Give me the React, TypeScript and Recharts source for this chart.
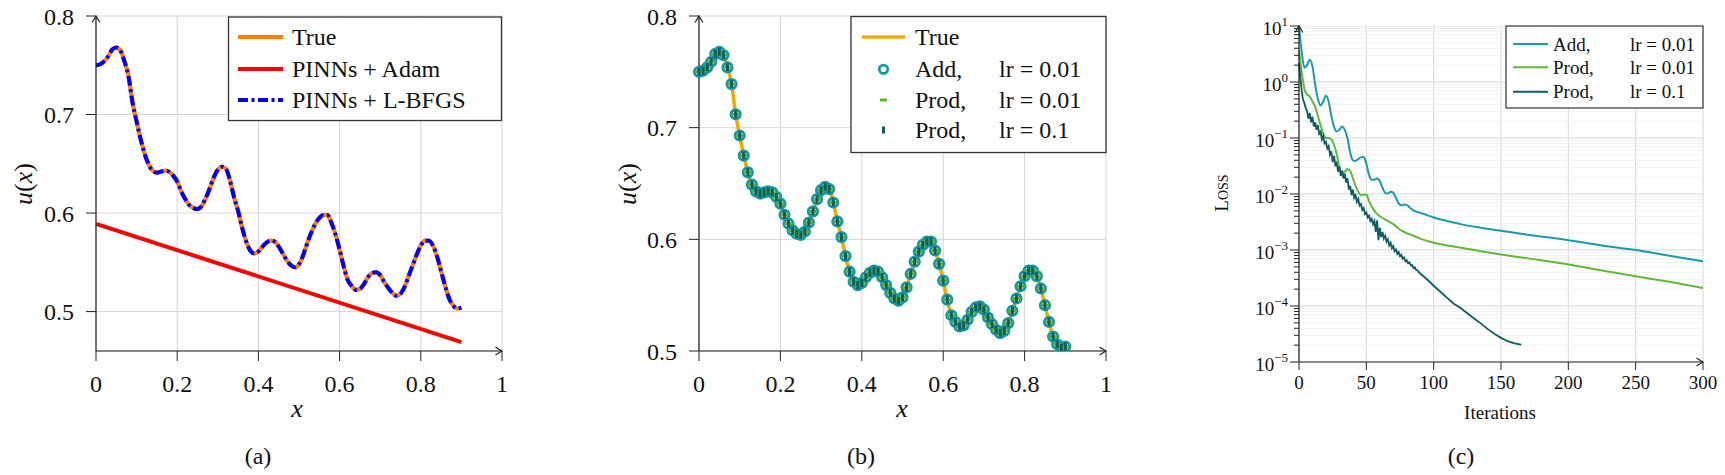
import React from 'react';
import { LineChart, Line, XAxis, YAxis, CartesianGrid, ReferenceLine } from 'recharts';

// ---- solution u(x) sampled on [0, 0.9] ----
const xSamples = [
  0, 0.01, 0.02, 0.03, 0.04, 0.05, 0.06, 0.07, 0.08, 0.09,
  0.1, 0.11, 0.12, 0.13, 0.14, 0.15, 0.16, 0.17, 0.18, 0.19,
  0.2, 0.21, 0.22, 0.23, 0.24, 0.25, 0.26, 0.27, 0.28, 0.29,
  0.3, 0.31, 0.32, 0.33, 0.34, 0.35, 0.36, 0.37, 0.38, 0.39,
  0.4, 0.41, 0.42, 0.43, 0.44, 0.45, 0.46, 0.47, 0.48, 0.49,
  0.5, 0.51, 0.52, 0.53, 0.54, 0.55, 0.56, 0.57, 0.58, 0.59,
  0.6, 0.61, 0.62, 0.63, 0.64, 0.65, 0.66, 0.67, 0.68, 0.69,
  0.7, 0.71, 0.72, 0.73, 0.74, 0.75, 0.76, 0.77, 0.78, 0.79,
  0.8, 0.81, 0.82, 0.83, 0.84, 0.85, 0.86, 0.87, 0.88, 0.89,
  0.9,
];
const uTrue = [
  0.750, 0.751, 0.754, 0.759, 0.766, 0.768, 0.765, 0.754, 0.739, 0.712,
  0.693, 0.675, 0.660, 0.649, 0.643, 0.641, 0.642, 0.643, 0.642, 0.638,
  0.632, 0.622, 0.614, 0.608, 0.605, 0.604, 0.607, 0.615, 0.625, 0.636,
  0.644, 0.647, 0.645, 0.633, 0.616, 0.602, 0.585, 0.571, 0.562, 0.559,
  0.561, 0.566, 0.570, 0.572, 0.571, 0.566, 0.559, 0.552, 0.547, 0.545,
  0.548, 0.557, 0.569, 0.580, 0.589, 0.595, 0.598, 0.598, 0.590, 0.578,
  0.563, 0.546, 0.532, 0.526, 0.522, 0.523, 0.528, 0.535, 0.539, 0.540,
  0.537, 0.530, 0.524, 0.519, 0.516, 0.518, 0.525, 0.536, 0.547, 0.558,
  0.567, 0.572, 0.572, 0.567, 0.556, 0.541, 0.526, 0.513, 0.506, 0.503,
  0.504,
];
// PINNs + Adam end points
const adamX = [0, 0.9];
const adamU = [0.589, 0.469];

// ---- training loss ----
const addIter = [
  0, 2, 4, 6, 8, 10, 12, 14, 16, 18, 20, 22, 24, 26, 28, 30, 32, 34, 36, 38, 40,
  42, 44, 46, 48, 50, 52, 54, 56, 58, 60, 62, 64, 66, 68, 70, 72, 74, 76, 78, 80, 82,
  85, 90, 95, 100, 110, 120, 135, 150, 175, 200, 225, 250, 275, 300,
];
const addLoss = [
  10, 3.5, 1.8, 2.0, 2.5, 1.9, 0.9, 0.5, 0.38, 0.45, 0.57, 0.45, 0.25, 0.16, 0.13,
  0.14, 0.16, 0.14, 0.1, 0.055, 0.04, 0.039, 0.042, 0.045, 0.046, 0.035, 0.022, 0.018,
  0.018, 0.019, 0.017, 0.013, 0.0105, 0.0102, 0.011, 0.0105, 0.0085, 0.0068, 0.0063,
  0.0065, 0.0064, 0.0058,
  0.0051, 0.0046, 0.0042, 0.0038, 0.0033, 0.0029, 0.0025, 0.0022, 0.0018, 0.0015,
  0.0012, 0.001, 0.00079, 0.00063,
];
const prodIter = [
  0, 2, 4, 6, 8, 10, 12, 14, 16, 18, 20, 22, 24, 26, 28, 30, 32, 34, 36, 38, 40,
  42, 44, 46, 48, 50, 52, 54, 56, 58, 60,
  65, 70, 75, 80, 85, 90, 100, 110, 120, 135, 150, 175, 200, 225, 250, 275, 300,
];
const prodLoss = [
  3.8, 1.5, 0.75, 0.6, 0.55, 0.45, 0.36, 0.25, 0.17, 0.12, 0.1, 0.1, 0.095, 0.075,
  0.052, 0.03, 0.024, 0.025, 0.028, 0.026, 0.019, 0.014, 0.011, 0.0095, 0.0098,
  0.0098, 0.0075, 0.006, 0.005, 0.0044, 0.004,
  0.0034, 0.0029, 0.0023, 0.002, 0.0018, 0.0016, 0.00135, 0.0012, 0.0011, 0.00095,
  0.00083, 0.00068, 0.00055, 0.00043, 0.00034, 0.00027, 0.00021,
];
const prodFastIter = [
  0, 1, 2, 3, 4, 5, 6, 7, 8, 9, 10, 11, 12, 13, 14, 15, 16, 17, 18, 19,
  20, 21, 22, 23, 24, 25, 26, 27, 28, 29, 30, 31, 32, 33, 34, 35, 36, 37, 38, 39,
  40, 41, 42, 43, 44, 45, 46, 47, 48, 49, 50, 51, 52, 53, 54, 55, 56, 57, 58, 59,
  60, 61, 62, 63, 64, 65, 66, 67, 68, 69, 70, 71, 72, 73, 74, 75, 76, 77, 78, 79,
  80, 81, 82, 83, 84, 85, 86, 87, 88, 89, 90,
  95, 100, 105, 110, 115, 120, 125, 130, 135, 140, 145, 150, 155, 160, 165,
];
const prodFastLoss = [
  2.2, 1.2, 0.7, 0.48, 0.42, 0.34, 0.30, 0.22, 0.28, 0.19,
  0.24, 0.16, 0.19, 0.14, 0.17, 0.12, 0.13, 0.095, 0.11, 0.08,
  0.085, 0.065, 0.072, 0.05, 0.058, 0.037, 0.048, 0.033, 0.036, 0.025,
  0.031, 0.021, 0.026, 0.019, 0.023, 0.016, 0.019, 0.012, 0.014, 0.0095,
  0.012, 0.0085, 0.0095, 0.0072, 0.0082, 0.0062, 0.0066, 0.0052, 0.0056, 0.0044,
  0.0047, 0.0038, 0.0041, 0.0033, 0.0036, 0.0029, 0.0033, 0.0021, 0.0034, 0.0015,
  0.0025, 0.0017, 0.0021, 0.0016, 0.0018, 0.0014, 0.00155, 0.0012, 0.00135, 0.00108,
  0.00118, 0.00095, 0.00102, 0.00085, 0.00092, 0.00078, 0.00082, 0.0007, 0.00074, 0.00063,
  0.00066, 0.00058, 0.0006, 0.00053, 0.00054, 0.00048, 0.00049, 0.00044, 0.00043, 0.0004,
  0.00038,
  0.0003, 0.00023, 0.00018, 0.00014, 0.00011, 9.2e-5, 7.4e-5, 6.0e-5, 4.9e-5, 3.9e-5,
  3.2e-5, 2.7e-5, 2.35e-5, 2.15e-5, 2.05e-5,
];

// ---- ticks ----
const unitTicks = [0, 0.2, 0.4, 0.6, 0.8, 1];
const uTicks = [0.5, 0.6, 0.7, 0.8];
const iterTicks = [0, 50, 100, 150, 200, 250, 300];
const lossDecades = [1e-5, 1e-4, 1e-3, 1e-2, 1e-1, 1, 10];
const minorSteps = [2, 3, 4, 5, 6, 7, 8, 9];
const lossTicks = lossDecades.flatMap((d, i) =>
  i === lossDecades.length - 1 ? [d] : [d, ...minorSteps.map((m) => m * d)]
);

const solutionRows = xSamples.map((x, i) => {
  const j = adamX.indexOf(x);
  return { x, u: uTrue[i], adam: j >= 0 ? adamU[j] : undefined };
});

const lossRows = (() => {
  const byIter = new Map<number, any>();
  const put = (iters: number[], losses: number[], key: string) =>
    iters.forEach((it, i) => {
      const row = byIter.get(it) ?? { it };
      row[key] = losses[i];
      byIter.set(it, row);
    });
  put(addIter, addLoss, 'add');
  put(prodIter, prodLoss, 'prod');
  put(prodFastIter, prodFastLoss, 'prodFast');
  return [...byIter.values()].sort((a, b) => a.it - b.it);
})();

// ---- styling ----
const SERIF = '"Liberation Serif", "Times New Roman", serif';
const INK = '#111';
const AXIS = '#222';
const GRID = '#d6d6d6';
const GRID_MINOR = '#f0f0f0';

const ORANGE = '#ff8000';
const AMBER = '#f5a700';
const TEAL = '#17979f';
const GREEN = '#5bb331';
const DARK_TEAL = '#0b6064';
const ADD_C = '#1a9ba8';
const PROD_C = '#62b83a';
const FAST_C = '#0d5e62';

const bigTick = { fontSize: 24, fill: INK, fontFamily: SERIF, style: { fontFamily: SERIF } };
const smallTick = { fontSize: 19, fill: INK, fontFamily: SERIF, style: { fontFamily: SERIF } };
const axisLineX = { stroke: AXIS, strokeWidth: 1.2, markerEnd: 'url(#axisArrow)' };
const axisLineY = { stroke: AXIS, strokeWidth: 1.2, markerStart: 'url(#axisArrowRev)' };
const tickLine = { stroke: AXIS, strokeWidth: 1 };
const chartStyle = { fontFamily: SERIF };

const circleDot = (p: any) => (
  <circle key={`c${p.index}`} cx={p.cx} cy={p.cy} r={4.6} fill="none" stroke={TEAL} strokeWidth={3} />
);
const dashDot = (p: any) => (
  <line key={`d${p.index}`} x1={p.cx - 4} x2={p.cx + 4} y1={p.cy} y2={p.cy} stroke={GREEN} strokeWidth={3} />
);
const barDot = (p: any) => (
  <line key={`b${p.index}`} x1={p.cx} x2={p.cx} y1={p.cy - 4} y2={p.cy + 4} stroke={DARK_TEAL} strokeWidth={3} />
);

const LossTick = ({ x, y, payload }: any) => {
  const v = payload.value;
  const major = lossDecades.includes(v);
  const exp = Math.round(Math.log10(v));
  return (
    <g>
      <line x1={x - (major ? 9 : 5)} x2={x} y1={y} y2={y} stroke={AXIS} strokeWidth={1} />
      {major && (
        <text x={x - 11} y={y + 9} textAnchor="end" fontSize={19} fill={INK} style={{ fontFamily: SERIF }}>
          10
          <tspan dy={-9} fontSize={13}>
            {exp < 0 ? `\u2212${-exp}` : `${exp}`}
          </tspan>
        </text>
      )}
    </g>
  );
};

function SolutionChart() {
  return (
    <LineChart width={560} height={400} data={solutionRows} style={chartStyle} margin={{ top: 16, right: 58, bottom: 9, left: 0 }}>
      <CartesianGrid stroke={GRID} strokeWidth={1} />
      <XAxis
        dataKey="x"
        type="number"
        domain={[0, 1]}
        ticks={unitTicks}
        interval={0}
        height={40}
        tick={bigTick}
        tickSize={10}
        tickMargin={14}
        tickLine={tickLine}
        axisLine={axisLineX}
      />
      <YAxis
        type="number"
        domain={[0.46, 0.8]}
        allowDataOverflow
        ticks={uTicks}
        interval={0}
        width={96}
        tick={bigTick}
        tickSize={10}
        tickMargin={12}
        tickLine={tickLine}
        axisLine={axisLineY}
      />
      <Line dataKey="u" type="monotone" stroke={ORANGE} strokeWidth={4.2} dot={false} activeDot={false} isAnimationActive={false} />
      <Line dataKey="adam" type="linear" connectNulls stroke="#ff0000" strokeWidth={4} dot={false} activeDot={false} isAnimationActive={false} />
      <Line dataKey="u" type="monotone" stroke="#0000ff" strokeWidth={4} strokeDasharray="10 3.5 3 3.5" dot={false} activeDot={false} isAnimationActive={false} />
    </LineChart>
  );
}

function PredictionChart() {
  return (
    <LineChart width={560} height={400} data={solutionRows} style={chartStyle} margin={{ top: 16, right: 54, bottom: 9, left: 0 }}>
      <CartesianGrid stroke={GRID} strokeWidth={1} />
      <XAxis
        dataKey="x"
        type="number"
        domain={[0, 1]}
        ticks={unitTicks}
        interval={0}
        height={40}
        tick={bigTick}
        tickSize={10}
        tickMargin={14}
        tickLine={tickLine}
        axisLine={axisLineX}
      />
      <YAxis
        type="number"
        domain={[0.5, 0.8]}
        allowDataOverflow
        ticks={uTicks}
        interval={0}
        width={99}
        tick={bigTick}
        tickSize={10}
        tickMargin={12}
        tickLine={tickLine}
        axisLine={axisLineY}
      />
      <Line dataKey="u" type="monotone" stroke={AMBER} strokeWidth={3.5} dot={false} activeDot={false} isAnimationActive={false} />
      <Line dataKey="u" stroke="none" dot={circleDot} activeDot={false} isAnimationActive={false} />
      <Line dataKey="u" stroke="none" dot={dashDot} activeDot={false} isAnimationActive={false} />
      <Line dataKey="u" stroke="none" dot={barDot} activeDot={false} isAnimationActive={false} />
    </LineChart>
  );
}

function LossChart() {
  return (
    <LineChart width={525} height={420} data={lossRows} style={chartStyle} margin={{ top: 26, right: 22, bottom: 18, left: 0 }}>
      <CartesianGrid stroke={GRID} strokeWidth={1} horizontal={false} />
      {lossTicks.map((v) => (
        <ReferenceLine
          key={v}
          y={v}
          stroke={lossDecades.includes(v) ? GRID : GRID_MINOR}
          strokeWidth={1}
          ifOverflow="hidden"
        />
      ))}
      <XAxis
        dataKey="it"
        type="number"
        domain={[0, 300]}
        ticks={iterTicks}
        interval={0}
        height={40}
        tick={smallTick}
        tickSize={8}
        tickMargin={6}
        tickLine={tickLine}
        axisLine={axisLineX}
      />
      <YAxis
        type="number"
        scale="log"
        domain={[1e-5, 10]}
        allowDataOverflow
        ticks={lossTicks}
        interval={0}
        width={99}
        tick={<LossTick />}
        tickSize={0}
        tickMargin={0}
        tickLine={false}
        axisLine={axisLineY}
      />
      <Line dataKey="add" type="monotone" connectNulls stroke={ADD_C} strokeWidth={2} dot={false} activeDot={false} isAnimationActive={false} />
      <Line dataKey="prod" type="monotone" connectNulls stroke={PROD_C} strokeWidth={2} dot={false} activeDot={false} isAnimationActive={false} />
      <Line dataKey="prodFast" type="linear" connectNulls stroke={FAST_C} strokeWidth={1.8} dot={false} activeDot={false} isAnimationActive={false} />
    </LineChart>
  );
}

const Abs = ({ left, top, children }: any) => (
  <div style={{ position: 'absolute', left, top }}>{children}</div>
);

export default function App() {
  return (
    <div
      style={{
        position: 'absolute',
        left: 0,
        top: 0,
        width: 1725,
        height: 475,
        background: '#fff',
        overflow: 'hidden',
        fontFamily: SERIF,
      }}
    >
      <svg width={0} height={0} style={{ position: 'absolute' }}>
        <defs>
          <marker id="axisArrow" viewBox="-8 -5 10 10" refX={0} refY={0} markerWidth={10} markerHeight={10} markerUnits="userSpaceOnUse" orient="auto">
            <path d="M-6.5,-4 Q-1.5,-0.8 0,0 Q-1.5,0.8 -6.5,4" fill="none" stroke={AXIS} strokeWidth={1.2} />
          </marker>
          <marker id="axisArrowRev" viewBox="-8 -5 10 10" refX={0} refY={0} markerWidth={10} markerHeight={10} markerUnits="userSpaceOnUse" orient="auto-start-reverse">
            <path d="M-6.5,-4 Q-1.5,-0.8 0,0 Q-1.5,0.8 -6.5,4" fill="none" stroke={AXIS} strokeWidth={1.2} />
          </marker>
        </defs>
      </svg>

      <Abs left={0} top={0}>
        <SolutionChart />
      </Abs>
      <Abs left={600} top={0}>
        <PredictionChart />
      </Abs>
      <Abs left={1200} top={0}>
        <LossChart />
      </Abs>

      <svg width={1725} height={475} style={{ position: 'absolute', left: 0, top: 0, pointerEvents: 'none', fontFamily: SERIF }} fill={INK}>
        {/* legend (a) */}
        <rect x={228.5} y={17} width={273} height={103.5} fill="#fff" stroke="#333" strokeWidth={1.3} />
        <line x1={238} x2={283} y1={37} y2={37} stroke={ORANGE} strokeWidth={4.2} />
        <line x1={238} x2={283} y1={69} y2={69} stroke="#ff0000" strokeWidth={4} />
        <line x1={238} x2={283} y1={100} y2={100} stroke="#0000ff" strokeWidth={4} strokeDasharray="10 3.5 3 3.5" />
        <text x={292} y={45} fontSize={24}>True</text>
        <text x={292} y={77} fontSize={24}>PINNs + Adam</text>
        <text x={292} y={108} fontSize={24}>PINNs + L-BFGS</text>

        {/* legend (b) */}
        <rect x={851} y={16.5} width={255} height={136} fill="#fff" stroke="#333" strokeWidth={1.3} />
        <line x1={862} x2={905} y1={37} y2={37} stroke={AMBER} strokeWidth={3.5} />
        <circle cx={883.5} cy={69.3} r={4.2} fill="none" stroke={TEAL} strokeWidth={2.8} />
        <line x1={880} x2={887} y1={100} y2={100} stroke={GREEN} strokeWidth={3} />
        <line x1={883.5} x2={883.5} y1={126.5} y2={133.5} stroke={DARK_TEAL} strokeWidth={3} />
        <text x={915} y={45} fontSize={24}>True</text>
        <text x={915} y={77.3} fontSize={24}>Add,</text>
        <text x={999} y={77.3} fontSize={24}>lr = 0.01</text>
        <text x={915} y={108} fontSize={24}>Prod,</text>
        <text x={999} y={108} fontSize={24}>lr = 0.01</text>
        <text x={915} y={138} fontSize={24}>Prod,</text>
        <text x={999} y={138} fontSize={24}>lr = 0.1</text>

        {/* legend (c) */}
        <rect x={1506} y={26} width={197} height={82} fill="#fff" stroke="#333" strokeWidth={1.2} />
        <line x1={1513} x2={1548} y1={44} y2={44} stroke={ADD_C} strokeWidth={2} />
        <line x1={1513} x2={1548} y1={67.3} y2={67.3} stroke={PROD_C} strokeWidth={2} />
        <line x1={1513} x2={1548} y1={91.7} y2={91.7} stroke={FAST_C} strokeWidth={2} />
        <text x={1553} y={50.5} fontSize={19}>Add,</text>
        <text x={1630} y={50.5} fontSize={19}>lr = 0.01</text>
        <text x={1553} y={73.8} fontSize={19}>Prod,</text>
        <text x={1630} y={73.8} fontSize={19}>lr = 0.01</text>
        <text x={1553} y={98.2} fontSize={19}>Prod,</text>
        <text x={1630} y={98.2} fontSize={19}>lr = 0.1</text>

        {/* axis titles */}
        <text transform="translate(25,184) rotate(-90)" y={7} textAnchor="middle" fontSize={26}>
          <tspan fontStyle="italic">u</tspan>(<tspan fontStyle="italic">x</tspan>)
        </text>
        <text transform="translate(629,184) rotate(-90)" y={7} textAnchor="middle" fontSize={26}>
          <tspan fontStyle="italic">u</tspan>(<tspan fontStyle="italic">x</tspan>)
        </text>
        <text x={297} y={417} textAnchor="middle" fontSize={26} fontStyle="italic">x</text>
        <text x={902} y={417} textAnchor="middle" fontSize={26} fontStyle="italic">x</text>
        <text transform="translate(1222,193) rotate(-90)" y={6} textAnchor="middle" fontSize={19}>
          L<tspan fontSize={14}>OSS</tspan>
        </text>
        <text x={1500} y={419} textAnchor="middle" fontSize={19}>Iterations</text>

        {/* captions */}
        <text x={258} y={464} textAnchor="middle" fontSize={24}>(a)</text>
        <text x={861} y={464} textAnchor="middle" fontSize={24}>(b)</text>
        <text x={1461} y={464} textAnchor="middle" fontSize={24}>(c)</text>
      </svg>
    </div>
  );
}
